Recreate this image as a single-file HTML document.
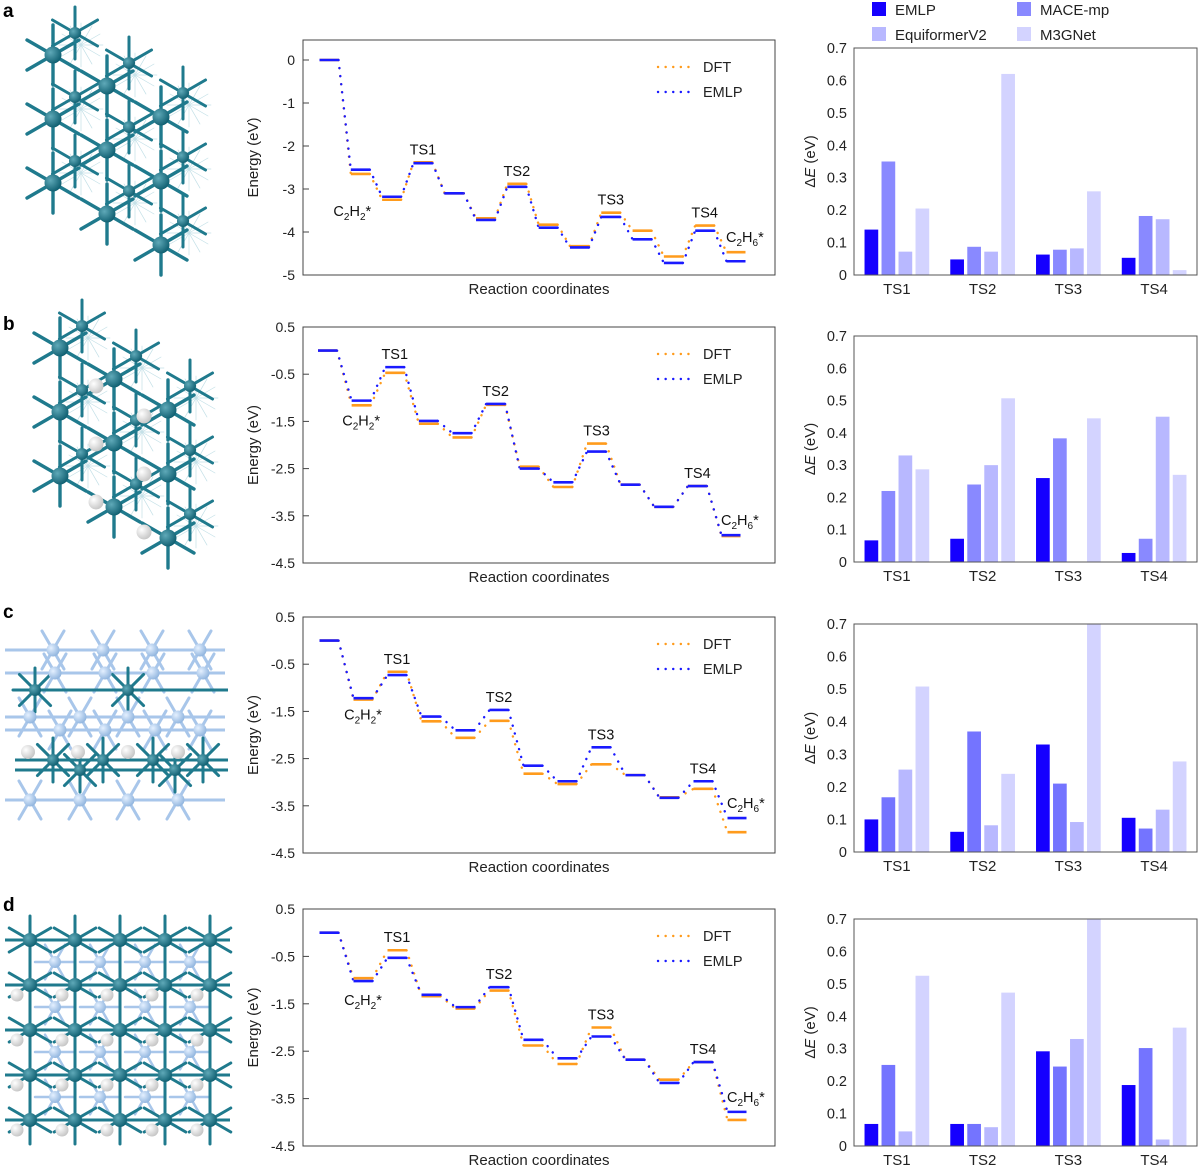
<!DOCTYPE html>
<html><head><meta charset="utf-8"><style>
html,body{margin:0;padding:0;background:#fff;}
svg{display:block;font-family:"Liberation Sans",sans-serif;}
</style></head><body>
<svg id="fig" width="1200" height="1166" viewBox="0 0 1200 1166" xmlns="http://www.w3.org/2000/svg">
<defs>
<radialGradient id="gTeal" cx="35%" cy="35%" r="70%"><stop offset="0" stop-color="#5fa9b8"/><stop offset="1" stop-color="#0e5e70"/></radialGradient>
<radialGradient id="gLight" cx="35%" cy="35%" r="70%"><stop offset="0" stop-color="#e4f0ff"/><stop offset="1" stop-color="#8fb4de"/></radialGradient>
<radialGradient id="gWhite" cx="35%" cy="35%" r="70%"><stop offset="0" stop-color="#ffffff"/><stop offset="1" stop-color="#c4c4c4"/></radialGradient>
</defs>
<g id="structs"></g>
<g id="energy"></g>
<g id="bars"></g>
</svg>
<script>
// ===== Energy profile data (DFT / EMLP) =====
const energyA_dft  = [0,-2.65,-3.25,-2.38,-3.1,-3.68,-2.88,-3.83,-4.33,-3.55,-3.97,-4.57,-3.85,-4.47];
const energyA_emlp = [0,-2.55,-3.18,-2.40,-3.1,-3.72,-2.95,-3.90,-4.36,-3.65,-4.17,-4.72,-3.97,-4.68];
const energyA_ticks = [0,-1,-2,-3,-4,-5];
const energyB_dft  = [0,-1.16,-0.47,-1.55,-1.84,-1.15,-2.46,-2.89,-1.97,-2.84,-3.31,-2.87,-3.93];
const energyB_emlp = [0,-1.06,-0.35,-1.49,-1.75,-1.13,-2.50,-2.79,-2.14,-2.84,-3.31,-2.87,-3.91];
const energyC_dft  = [0,-1.25,-0.66,-1.71,-2.06,-1.70,-2.82,-3.04,-2.62,-2.85,-3.32,-3.14,-4.06];
const energyC_emlp = [0,-1.22,-0.73,-1.61,-1.90,-1.47,-2.65,-2.98,-2.26,-2.85,-3.33,-2.98,-3.76];
const energyD_dft  = [0,-0.96,-0.37,-1.34,-1.60,-1.22,-2.38,-2.77,-2.00,-2.68,-3.10,-2.73,-3.95];
const energyD_emlp = [0,-1.02,-0.53,-1.31,-1.57,-1.15,-2.26,-2.65,-2.19,-2.68,-3.17,-2.73,-3.78];
const energyBCD_ticks = [0.5,-0.5,-1.5,-2.5,-3.5,-4.5];
const tsLabels = ["TS1","TS2","TS3","TS4"];
const tsIndexA = [3,6,9,12];
const tsIndexBCD = [2,5,8,11];

// ===== Bar chart data =====
const barCategories = ["TS1","TS2","TS3","TS4"];
const barSeriesNames = ["EMLP","MACE-mp","EquiformerV2","M3GNet"];
const barTicks = [0,0.1,0.2,0.3,0.4,0.5,0.6,0.7];
const barA_emlp = [0.14,0.048,0.063,0.053];
const barA_mace = [0.35,0.087,0.078,0.182];
const barA_equi = [0.072,0.072,0.082,0.172];
const barA_m3g  = [0.205,0.62,0.258,0.015];
const barB_emlp = [0.067,0.072,0.26,0.028];
const barB_mace = [0.22,0.24,0.383,0.072];
const barB_equi = [0.33,0.30,0,0.45];
const barB_m3g  = [0.287,0.507,0.445,0.27];
const barC_emlp = [0.10,0.062,0.33,0.105];
const barC_mace = [0.168,0.37,0.21,0.072];
const barC_equi = [0.253,0.082,0.092,0.13];
const barC_m3g  = [0.508,0.24,0.70,0.278];
const barD_emlp = [0.068,0.068,0.292,0.188];
const barD_mace = [0.25,0.068,0.245,0.302];
const barD_equi = [0.045,0.058,0.33,0.02];
const barD_m3g  = [0.525,0.473,0.70,0.365];

const NS="http://www.w3.org/2000/svg";
function mk(parent,tag,attrs,text){const e=document.createElementNS(NS,tag);for(const k in attrs)e.setAttribute(k,attrs[k]);if(text!==undefined)e.textContent=text;parent.appendChild(e);return e;}

const letters=[["a",17],["b",330],["c",618],["d",911]];
const svgRoot=document.getElementById('fig');
letters.forEach(l=>{
  const t=mk(svgRoot,'text',{x:3,y:l[1],'font-size':19,'font-weight':'bold',fill:'#000'},l[0]);
  
  
});

const EG=document.getElementById('energy');
const ORANGE="#ff9b1c", BLUE="#1a1aff";
function energyChart(id,cfg){
  const g=mk(EG,'g',{});
  
  
  const L=303,R=775,T=cfg.top,B=cfg.bottom;
  const ys=v=>T+(cfg.ymax-v)/(cfg.ymax-cfg.ymin)*(B-T);
  const n=cfg.dft.length;
  const xs=i=>cfg.x0+(cfg.x1-cfg.x0)*i/(n-1);
  const box=mk(g,'rect',{x:L,y:T,width:R-L,height:B-T,fill:'none',stroke:'#444','stroke-width':1});
  
  
  cfg.ticks.forEach(t=>{
    const y=ys(t);
    const tk=mk(g,'line',{x1:L,x2:L+6,y1:y,y2:y,stroke:'#444','stroke-width':1});
    
    
    const tl=mk(g,'text',{x:L-8,y:y+5,'text-anchor':'end','font-size':14,fill:'#222'},String(t));
    
    
  });
  const yt=mk(g,'text',{x:0,y:0,'font-size':15,fill:'#222','text-anchor':'middle',transform:`translate(258,${(T+B)/2}) rotate(-90)`},'Energy (eV)');
  
  
  const xt=mk(g,'text',{x:539,y:B+19,'font-size':15,fill:'#222','text-anchor':'middle'},'Reaction coordinates');
  
  
  const hw=9.5;
  [[cfg.dft,ORANGE,'dft'],[cfg.emlp,BLUE,'emlp']].forEach(s=>{
    const vals=s[0],col=s[1],nm=s[2];
    for(let i=0;i<n-1;i++){
      const c=mk(g,'line',{x1:xs(i)+hw,y1:ys(vals[i]),x2:xs(i+1)-hw,y2:ys(vals[i+1]),stroke:col,'stroke-width':2.4,'stroke-linecap':'round','stroke-dasharray':'0.1 8'});
      
      
    }
  });
  [[cfg.dft,ORANGE,'dft'],[cfg.emlp,BLUE,'emlp']].forEach(s=>{
    const vals=s[0],col=s[1],nm=s[2];
    vals.forEach((v,i)=>{
      const l=mk(g,'line',{x1:xs(i)-hw,x2:xs(i)+hw,y1:ys(v),y2:ys(v),stroke:col,'stroke-width':2.6});
      
      
    });
  });
  cfg.tsIdx.forEach((idx,k)=>{
    const y=Math.min(ys(cfg.dft[idx]),ys(cfg.emlp[idx]));
    const t=mk(g,'text',{x:xs(idx),y:y-8,'font-size':14.5,fill:'#111','text-anchor':'middle'},tsLabels[k]);
    
    
  });
  const y1=Math.max(ys(cfg.dft[1]),ys(cfg.emlp[1]));
  const c2=mk(g,'text',{x:xs(1)+cfg.c2dx,y:y1+cfg.c2dy,'font-size':14.5,fill:'#111','text-anchor':'middle'});
  
  
  c2.innerHTML='C<tspan font-size="10" dy="4">2</tspan><tspan dy="-4">H</tspan><tspan font-size="10" dy="4">2</tspan><tspan dy="-4">*</tspan>';
  const yl=Math.min(ys(cfg.dft[n-1]),ys(cfg.emlp[n-1]));
  const c6=mk(g,'text',{x:xs(n-1)-10,y:yl-10,'font-size':14.5,fill:'#111'});
  
  
  c6.innerHTML='C<tspan font-size="10" dy="4">2</tspan><tspan dy="-4">H</tspan><tspan font-size="10" dy="4">6</tspan><tspan dy="-4">*</tspan>';
  [[ORANGE,'DFT',27],[BLUE,'EMLP',52]].forEach(e=>{
    const lg=mk(g,'g',{});
    
    
    mk(lg,'line',{x1:658,x2:696,y1:T+e[2],y2:T+e[2],stroke:e[0],'stroke-width':2.4,'stroke-linecap':'round','stroke-dasharray':'0.1 7.5'});
    mk(lg,'text',{x:703,y:T+e[2]+5,'font-size':14.5,fill:'#222'},e[1]);
  });
}
energyChart('a',{top:40,bottom:275,ymax:0.465,ymin:-5,ticks:energyA_ticks,dft:energyA_dft,emlp:energyA_emlp,x0:329,x1:736,tsIdx:tsIndexA,c2dx:-8,c2dy:42});
energyChart('b',{top:327,bottom:563,ymax:0.5,ymin:-4.5,ticks:energyBCD_ticks,dft:energyB_dft,emlp:energyB_emlp,x0:327.5,x1:731,tsIdx:tsIndexBCD,c2dx:0,c2dy:20});
energyChart('c',{top:617,bottom:853,ymax:0.5,ymin:-4.5,ticks:energyBCD_ticks,dft:energyC_dft,emlp:energyC_emlp,x0:329,x1:737,tsIdx:tsIndexBCD,c2dx:0,c2dy:20});
energyChart('d',{top:909,bottom:1146,ymax:0.5,ymin:-4.5,ticks:energyBCD_ticks,dft:energyD_dft,emlp:energyD_emlp,x0:329,x1:737,tsIdx:tsIndexBCD,c2dx:0,c2dy:24});

const BG=document.getElementById('bars');
function barChart(id,cfg){
  const g=mk(BG,'g',{});
  
  
  const L=854,R=1197,T=cfg.top,B=cfg.bottom;
  const ys=v=>B-Math.min(v,0.7)/0.7*(B-T);
  const band=(R-L)/barCategories.length;
  const bw=13.7, step=17;
  const series=[cfg.s0,cfg.s1,cfg.s2,cfg.s3];
  series.forEach((vals,si)=>{
    vals.forEach((v,ci)=>{
      const cx=L+band*(ci+0.5)+(si-1.5)*step;
      if(v<=0) return;
      const r=mk(g,'rect',{x:cx-bw/2,y:ys(v),width:bw,height:B-ys(v),fill:cfg.colors[si]});
      
      
    });
  });
  const box=mk(g,'rect',{x:L,y:T,width:R-L,height:B-T,fill:'none',stroke:'#555','stroke-width':1});
  
  
  barTicks.forEach(t=>{
    const tl=mk(g,'text',{x:847,y:ys(t)+5,'text-anchor':'end','font-size':14.5,fill:'#222'},t===0?'0':t.toFixed(1));
    
    
  });
  barCategories.forEach((c,ci)=>{
    const t=mk(g,'text',{x:L+band*(ci+0.5),y:B+19,'text-anchor':'middle','font-size':15,fill:'#222'},c);
    
    
  });
  const yt=mk(g,'text',{x:0,y:0,'font-size':15,fill:'#222','text-anchor':'middle',transform:`translate(815,${(T+B)/2}) rotate(-90)`});
  
  
  yt.innerHTML='Δ<tspan font-style="italic">E</tspan> (eV)';
}
const colA=["#1500ff","#8989ff","#b8b8ff","#d3d3ff"];
const colC=["#1500ff","#7474ff","#b8b8ff","#d3d3ff"];
barChart('a',{top:48,bottom:275,s0:barA_emlp,s1:barA_mace,s2:barA_equi,s3:barA_m3g,colors:colA});
barChart('b',{top:336,bottom:562,s0:barB_emlp,s1:barB_mace,s2:barB_equi,s3:barB_m3g,colors:colA});
barChart('c',{top:624,bottom:852,s0:barC_emlp,s1:barC_mace,s2:barC_equi,s3:barC_m3g,colors:colC});
barChart('d',{top:919,bottom:1146,s0:barD_emlp,s1:barD_mace,s2:barD_equi,s3:barD_m3g,colors:colC});

const legendPos=[[872,2],[1017,2],[872,27],[1017,27]];
barSeriesNames.forEach((nm,i)=>{
  const lg=mk(BG,'g',{});
  
  
  mk(lg,'rect',{x:legendPos[i][0],y:legendPos[i][1],width:14,height:14,fill:colA[i]});
  mk(lg,'text',{x:legendPos[i][0]+23,y:legendPos[i][1]+13,'font-size':15,fill:'#222'},nm);
});

const SG=document.getElementById('structs');
function atom(g,x,y,r,fill){mk(g,'circle',{cx:x,cy:y,r:r,fill:fill});}
function spokes(g,x,y,len,col,w,angles){
  angles.forEach(a=>{const rad=a*Math.PI/180;mk(g,'line',{x1:x-len*Math.cos(rad),y1:y-len*Math.sin(rad),x2:x+len*Math.cos(rad),y2:y+len*Math.sin(rad),stroke:col,'stroke-width':w,'stroke-linecap':'round'});});
}
function structA(id,ox,oy,withH){
  const g=mk(SG,'g',{});
  
  
  const teal="#1f7a8d";
  for(let c=0;c<3;c++)for(let r=0;r<3;r++){spokes(g,ox+28+54*c,oy+30*c+64*r-10,22,'#c3e0e7',0.7,[0,30,60,90,120,150]);}
  for(let c=0;c<3;c++)for(let r=0;r<3;r++){const x=ox+22+54*c,y=oy-22+30*c+64*r;spokes(g,x,y,26,teal,3,[90,-30,30]);}
  for(let c=0;c<3;c++)for(let r=0;r<3;r++){const x=ox+22+54*c,y=oy-22+30*c+64*r;atom(g,x,y,6,'url(#gTeal)');}
  for(let c=0;c<3;c++)for(let r=0;r<3;r++){const x=ox+54*c,y=oy+31*c+64*r;spokes(g,x,y,30,teal,3.4,[90,-30,30]);}
  for(let c=0;c<3;c++)for(let r=0;r<3;r++){const x=ox+54*c,y=oy+31*c+64*r;atom(g,x,y,8.5,'url(#gTeal)');}
  if(withH){for(let c=0;c<2;c++)for(let r=0;r<3;r++){atom(g,ox+36+48*c,oy+18+30*c+58*r+20,7.5,'url(#gWhite)');}}
}
structA('a',53,55,false);
structA('b',60,348,true);

function structGrid(id,ox,oy,variant){
  const g=mk(SG,'g',{});
  
  
  const teal="#1f7a8d", light="#a8c6ea";
  if(variant==='c'){
    const lightRows=[[50,[53,103,152,200]],[73,[55,105,153,203]],[117,[30,80,128,178]],[130,[60,105,155,200]],[200,[30,80,128,178]]];
    lightRows.forEach(r=>{mk(g,'line',{x1:ox+5,x2:ox+225,y1:oy+r[0],y2:oy+r[0],stroke:light,'stroke-width':3});});
    lightRows.forEach(r=>r[1].forEach(x=>spokes(g,ox+x,oy+r[0],22,light,3,[60,120])));
    [[90,[35,128]],[160,[53,103,153,203]],[170,[80,175]]].forEach(r=>{mk(g,'line',{x1:ox+15,x2:ox+228,y1:oy+r[0],y2:oy+r[0],stroke:teal,'stroke-width':3});r[1].forEach(x=>{spokes(g,ox+x,oy+r[0],22,teal,3,[0,45,90,135]);atom(g,ox+x,oy+r[0],6,'url(#gTeal)');});});
    lightRows.forEach(r=>r[1].forEach(x=>atom(g,ox+x,oy+r[0],6.5,'url(#gLight)')));
    [28,78,128,178].forEach(x=>atom(g,ox+x,oy+152,7,'url(#gWhite)'));
  } else {
    for(let j=0;j<5;j++){mk(g,'line',{x1:ox,x2:ox+225,y1:oy+22+45*j,y2:oy+22+45*j,stroke:teal,'stroke-width':3});}
    for(let i=0;i<4;i++)for(let j=0;j<4;j++){spokes(g,ox+50+45*i,oy+44+45*j,20,light,2.5,[0,60,120]);}
    for(let i=0;i<5;i++)for(let j=0;j<5;j++){spokes(g,ox+25+45*i,oy+22+45*j,24,teal,3,[90,30,150]);}
    for(let i=0;i<4;i++)for(let j=0;j<4;j++){atom(g,ox+50+45*i,oy+44+45*j,6,'url(#gLight)');}
    for(let i=0;i<5;i++)for(let j=1;j<5;j++){atom(g,ox+12+45*i,oy+32+45*j,6.5,'url(#gWhite)');}
    for(let i=0;i<5;i++)for(let j=0;j<5;j++){atom(g,ox+25+45*i,oy+22+45*j,7,'url(#gTeal)');}
  }
}
structGrid('c',0,600,'c');
structGrid('d',5,918,'d');
</script>
</body></html>
